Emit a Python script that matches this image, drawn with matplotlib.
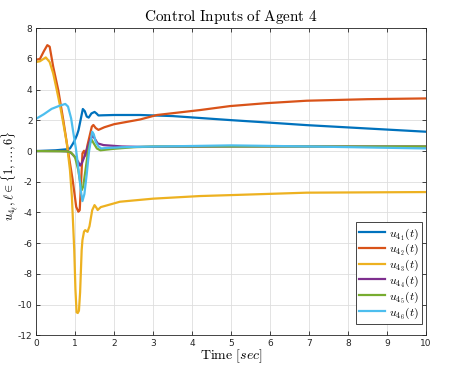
import matplotlib
matplotlib.use("Agg")
import matplotlib.pyplot as plt

plt.rcParams["mathtext.fontset"] = "cm"
plt.rcParams["axes.unicode_minus"] = False

# data (time in sec)
t1 = [0, 0.5, 0.8, 0.87, 0.95, 1.0, 1.05, 1.09, 1.14, 1.2, 1.25, 1.3, 1.35, 1.42, 1.5, 1.55, 1.6, 1.7, 2.0, 2.67, 3.5, 4.97, 6.0, 6.94, 8.5, 10]
u1 = [0, 0.05, 0.12, 0.17, 0.5, 0.75, 1.05, 1.37, 2.0, 2.74, 2.6, 2.25, 2.18, 2.45, 2.55, 2.45, 2.32, 2.33, 2.35, 2.35, 2.28, 2.02, 1.85, 1.69, 1.47, 1.26]

t2 = [0, 0.1, 0.2, 0.29, 0.35, 0.44, 0.57, 0.7, 0.83, 0.94, 1.03, 1.085, 1.12, 1.17, 1.19, 1.23, 1.27, 1.32, 1.43, 1.47, 1.53, 1.6, 1.75, 2.0, 2.67, 3.1, 4.2, 4.97, 5.9, 6.94, 8.5, 10]
u2 = [5.95, 6.0, 6.5, 6.9, 6.8, 5.5, 3.97, 2.0, -0.15, -1.89, -3.63, -3.95, -3.85, -1.24, -0.15, 0.02, -0.3, 0.4, 1.59, 1.7, 1.5, 1.38, 1.55, 1.75, 2.06, 2.35, 2.67, 2.93, 3.12, 3.28, 3.38, 3.43]

t3 = [0, 0.1, 0.25, 0.35, 0.44, 0.53, 0.62, 0.7, 0.79, 0.87, 0.92, 0.98, 1.01, 1.04, 1.07, 1.1, 1.13, 1.17, 1.19, 1.23, 1.26, 1.32, 1.37, 1.44, 1.5, 1.55, 1.58, 1.66, 1.8, 2.15, 3.0, 4.2, 4.97, 6.94, 10]
u3 = [5.8, 5.85, 6.1, 5.8, 5.06, 4.0, 2.9, 1.8, 0.5, -1.24, -3.0, -6.45, -9.0, -10.5, -10.55, -10.4, -9.2, -6.45, -5.8, -5.25, -5.15, -5.26, -4.9, -3.85, -3.52, -3.7, -3.84, -3.65, -3.55, -3.3, -3.1, -2.93, -2.87, -2.71, -2.67]

t4 = [0, 0.62, 0.8, 0.87, 0.95, 1.0, 1.08, 1.13, 1.18, 1.25, 1.32, 1.4, 1.46, 1.52, 1.58, 1.73, 2.2, 2.67, 5, 10]
u4 = [0, 0.0, -0.02, -0.06, -0.25, -0.4, -0.7, -0.95, -0.75, -0.3, 0.25, 0.8, 1.0, 0.75, 0.5, 0.39, 0.3, 0.27, 0.3, 0.3]

t5 = [0, 0.8, 0.9, 1.0, 1.08, 1.13, 1.17, 1.21, 1.27, 1.33, 1.38, 1.43, 1.48, 1.56, 1.65, 2.0, 2.5, 3.0, 10]
u5 = [0, -0.02, -0.1, -0.4, -1.2, -2.0, -2.55, -2.3, -1.2, -0.1, 0.5, 0.72, 0.5, 0.17, 0.05, 0.15, 0.25, 0.3, 0.3]

t6 = [0, 0.2, 0.4, 0.6, 0.75, 0.82, 0.9, 0.95, 1.02, 1.06, 1.11, 1.15, 1.19, 1.24, 1.3, 1.36, 1.44, 1.48, 1.53, 1.6, 1.67, 1.8, 2.2, 2.67, 5, 7, 10]
u6 = [2.1, 2.4, 2.75, 2.95, 3.07, 2.9, 2.13, 1.3, 0.2, -0.6, -1.67, -2.6, -3.26, -2.8, -1.5, 0.0, 1.26, 1.1, 0.6, 0.3, 0.17, 0.2, 0.25, 0.28, 0.37, 0.3, 0.17]

colors = ["#0072BD", "#D95319", "#EDB120", "#7E2F8E", "#77AC30", "#4DBEEE"]
series = [(t1, u1), (t2, u2), (t3, u3), (t4, u4), (t5, u5), (t6, u6)]

fig = plt.figure(figsize=(4.74, 3.67), dpi=100)
ax = fig.add_axes([0.076, 0.0864, 0.823, 0.8366])

for i, (t, u) in enumerate(series):
    ax.plot(t, u, color=colors[i], linewidth=1.6, label=r"$u_{4_%d}(t)$" % (i + 1))

ax.set_xlim(0, 10)
ax.set_ylim(-12, 8)
ax.set_xticks(range(0, 11))
ax.set_yticks(range(-12, 9, 2))
ax.grid(True, color="#dedede", linewidth=0.6)
ax.tick_params(direction="in", length=3, labelsize=6.5, colors="#262626",
               top=True, right=True, width=0.6, pad=2.5)
for s in ax.spines.values():
    s.set_color("#262626")
    s.set_linewidth(0.6)

ax.set_title(r"$\mathrm{Control\ Inputs\ of\ Agent\ 4}$", fontsize=11, pad=5)
ax.set_xlabel(r"$\mathrm{Time}\ [sec]$", fontsize=10, labelpad=0)
ax.set_ylabel(r"$u_{4_\ell},\ell\in\{1,\ldots,6\}$", fontsize=9, labelpad=0)
ax.yaxis.set_label_coords(-0.041, 0.52)

leg = ax.legend(loc="lower right", bbox_to_anchor=(0.99, 0.036), fontsize=8.5,
                fancybox=False, framealpha=1, edgecolor="#262626",
                handlelength=2.2, borderpad=0.3, labelspacing=0.0,
                handletextpad=0.3, borderaxespad=0)
leg.get_frame().set_linewidth(0.6)

fig.savefig("out.png", dpi=100)
